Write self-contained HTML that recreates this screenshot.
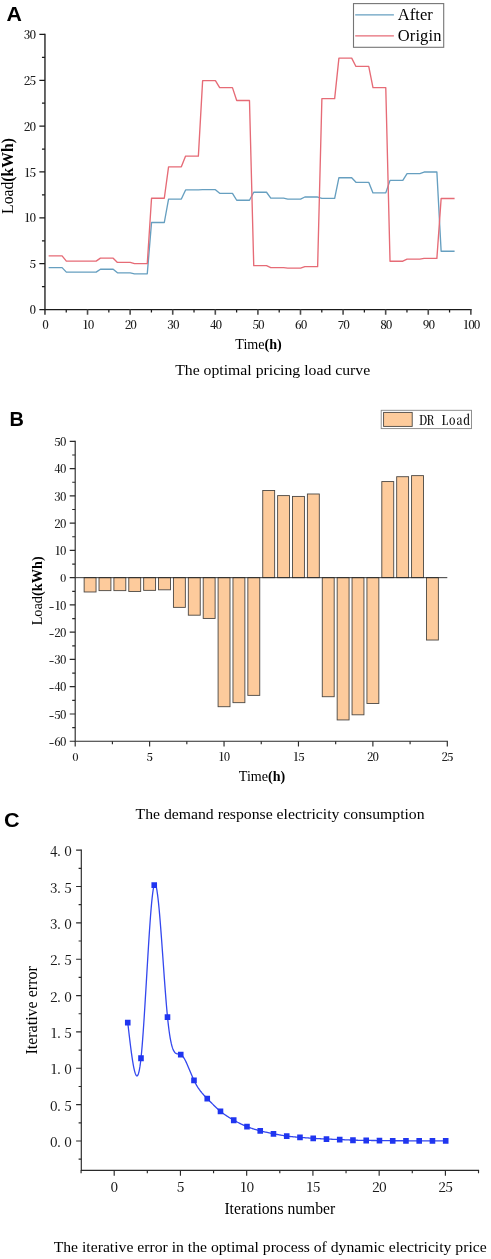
<!DOCTYPE html>
<html lang="en">
<head>
<meta charset="utf-8">
<title>Figure: optimal pricing load curve, demand response and iterative error</title>
<style>
html,body{margin:0;padding:0;background:#fff;}
body{width:491px;height:1259px;overflow:hidden;}
svg{display:block;}
text{white-space:pre;}
</style>
</head>
<body>
<svg width="491" height="1259" viewBox="0 0 491 1259">
<rect width="491" height="1259" fill="#ffffff"/>
<g id="chartA">
<path d="M49.31 267.65 L53.57 267.65 L57.83 267.65 L62.09 267.65 L66.34 272.15 L70.60 272.15 L74.86 272.15 L79.12 272.15 L83.38 272.15 L87.64 272.15 L91.90 272.15 L96.16 272.15 L100.42 269.21 L104.68 269.21 L108.94 269.21 L113.19 269.21 L117.45 272.80 L121.71 272.80 L125.97 272.80 L130.23 272.80 L134.49 273.81 L138.75 273.81 L143.01 273.81 L147.27 273.81 L151.53 222.50 L155.78 222.50 L160.04 222.50 L164.30 222.50 L168.56 199.05 L172.82 199.05 L177.08 199.05 L181.34 199.05 L185.60 189.94 L189.86 189.94 L194.12 189.94 L198.37 189.94 L202.63 189.67 L206.89 189.67 L211.15 189.67 L215.41 189.67 L219.67 193.35 L223.93 193.35 L228.19 193.35 L232.45 193.35 L236.71 200.24 L240.96 200.24 L245.22 200.24 L249.48 200.24 L253.74 192.24 L258.00 192.24 L262.26 192.24 L266.52 192.24 L270.78 198.13 L275.04 198.13 L279.30 198.13 L283.55 198.13 L287.81 199.14 L292.07 199.14 L296.33 199.14 L300.59 199.14 L304.85 197.02 L309.11 197.02 L313.37 197.02 L317.63 197.02 L321.89 198.40 L326.14 198.40 L330.40 198.40 L334.66 198.40 L338.92 177.71 L343.18 177.71 L347.44 177.71 L351.70 177.71 L355.96 182.31 L360.22 182.31 L364.48 182.31 L368.73 182.31 L372.99 192.89 L377.25 192.89 L381.51 192.89 L385.77 192.89 L390.03 180.38 L394.29 180.38 L398.55 180.38 L402.81 180.38 L407.06 173.57 L411.32 173.57 L415.58 173.57 L419.84 173.57 L424.10 172.01 L428.36 172.01 L432.62 172.01 L436.88 172.01 L441.14 251.28 L445.40 251.28 L449.66 251.28 L453.91 251.28" fill="none" stroke="#669fc0" stroke-width="1.35" stroke-linejoin="round" stroke-linecap="square"/>
<path d="M49.31 255.88 L53.57 255.88 L57.83 255.88 L62.09 255.88 L66.34 261.12 L70.60 261.12 L74.86 261.12 L79.12 261.12 L83.38 261.12 L87.64 261.12 L91.90 261.12 L96.16 261.12 L100.42 258.17 L104.68 258.17 L108.94 258.17 L113.19 258.17 L117.45 262.40 L121.71 262.40 L125.97 262.40 L130.23 262.40 L134.49 263.69 L138.75 263.69 L143.01 263.69 L147.27 263.69 L151.53 198.22 L155.78 198.22 L160.04 198.22 L164.30 198.22 L168.56 166.86 L172.82 166.86 L177.08 166.86 L181.34 166.86 L185.60 156.10 L189.86 156.10 L194.12 156.10 L198.37 156.10 L202.63 80.61 L206.89 80.61 L211.15 80.61 L215.41 80.61 L219.67 87.59 L223.93 87.59 L228.19 87.59 L232.45 87.59 L236.71 100.47 L240.96 100.47 L245.22 100.47 L249.48 100.47 L253.74 265.62 L258.00 265.62 L262.26 265.62 L266.52 265.62 L270.78 267.65 L275.04 267.65 L279.30 267.65 L283.55 267.65 L287.81 268.11 L292.07 268.11 L296.33 268.11 L300.59 268.11 L304.85 266.63 L309.11 266.63 L313.37 266.63 L317.63 266.63 L321.89 98.63 L326.14 98.63 L330.40 98.63 L334.66 98.63 L338.92 58.08 L343.18 58.08 L347.44 58.08 L351.70 58.08 L355.96 66.44 L360.22 66.44 L364.48 66.44 L368.73 66.44 L372.99 87.59 L377.25 87.59 L381.51 87.59 L385.77 87.59 L390.03 261.21 L394.29 261.21 L398.55 261.21 L402.81 261.21 L407.06 259.09 L411.32 259.09 L415.58 259.09 L419.84 259.09 L424.10 258.36 L428.36 258.36 L432.62 258.36 L436.88 258.36 L441.14 198.49 L445.40 198.49 L449.66 198.49 L453.91 198.49" fill="none" stroke="#e66b76" stroke-width="1.35" stroke-linejoin="round" stroke-linecap="square"/>
<path d="M44.95 33.80 V314.75" fill="none" stroke="#4c4c4c" stroke-width="1.7"/>
<path d="M39.35 309.55 H471.65" fill="none" stroke="#1a1a1a" stroke-width="1.25"/>
<path d="M44.95 263.69h-5.6 M44.95 217.83h-5.6 M44.95 171.97h-5.6 M44.95 126.12h-5.6 M44.95 80.26h-5.6 M44.95 34.40h-5.6 M44.95 286.62h-3 M44.95 240.76h-3 M44.95 194.90h-3 M44.95 149.05h-3 M44.95 103.19h-3 M44.95 57.33h-3 M66.25 309.55v3 M108.84 309.55v3 M151.43 309.55v3 M194.02 309.55v3 M236.61 309.55v3 M279.20 309.55v3 M321.79 309.55v3 M364.38 309.55v3 M406.96 309.55v3 M449.56 309.55v3" fill="none" stroke="#1a1a1a" stroke-width="1.25"/>
<path d="M87.54 309.55v5.2 M130.13 309.55v5.2 M172.72 309.55v5.2 M215.31 309.55v5.2 M257.90 309.55v5.2 M300.49 309.55v5.2 M343.08 309.55v5.2 M385.67 309.55v5.2 M428.26 309.55v5.2 M470.85 309.55v5.2" fill="none" stroke="#4c4c4c" stroke-width="1.6"/>
<text x="32.83" y="314.15" font-family='"Noto Serif CJK SC", "Liberation Serif", serif' font-size="11.50" font-weight="600" text-anchor="middle" fill="#222">0</text>
<text x="32.83" y="268.29" font-family='"Noto Serif CJK SC", "Liberation Serif", serif' font-size="11.50" font-weight="600" text-anchor="middle" fill="#222">5</text>
<text x="27.08 32.83" y="222.43" font-family='"Noto Serif CJK SC", "Liberation Serif", serif' font-size="11.50" font-weight="600" text-anchor="middle" fill="#222">10</text>
<text x="27.08 32.83" y="176.57" font-family='"Noto Serif CJK SC", "Liberation Serif", serif' font-size="11.50" font-weight="600" text-anchor="middle" fill="#222">15</text>
<text x="27.08 32.83" y="130.72" font-family='"Noto Serif CJK SC", "Liberation Serif", serif' font-size="11.50" font-weight="600" text-anchor="middle" fill="#222">20</text>
<text x="27.08 32.83" y="84.86" font-family='"Noto Serif CJK SC", "Liberation Serif", serif' font-size="11.50" font-weight="600" text-anchor="middle" fill="#222">25</text>
<text x="27.08 32.83" y="39.00" font-family='"Noto Serif CJK SC", "Liberation Serif", serif' font-size="11.50" font-weight="600" text-anchor="middle" fill="#222">30</text>
<text x="45.65" y="329.30" font-family='"Noto Serif CJK SC", "Liberation Serif", serif' font-size="11.50" font-weight="600" text-anchor="middle" fill="#222">0</text>
<text x="85.44 91.04" y="329.30" font-family='"Noto Serif CJK SC", "Liberation Serif", serif' font-size="11.50" font-weight="600" text-anchor="middle" fill="#222">10</text>
<text x="128.03 133.63" y="329.30" font-family='"Noto Serif CJK SC", "Liberation Serif", serif' font-size="11.50" font-weight="600" text-anchor="middle" fill="#222">20</text>
<text x="170.62 176.22" y="329.30" font-family='"Noto Serif CJK SC", "Liberation Serif", serif' font-size="11.50" font-weight="600" text-anchor="middle" fill="#222">30</text>
<text x="213.21 218.81" y="329.30" font-family='"Noto Serif CJK SC", "Liberation Serif", serif' font-size="11.50" font-weight="600" text-anchor="middle" fill="#222">40</text>
<text x="255.80 261.40" y="329.30" font-family='"Noto Serif CJK SC", "Liberation Serif", serif' font-size="11.50" font-weight="600" text-anchor="middle" fill="#222">50</text>
<text x="298.39 303.99" y="329.30" font-family='"Noto Serif CJK SC", "Liberation Serif", serif' font-size="11.50" font-weight="600" text-anchor="middle" fill="#222">60</text>
<text x="340.98 346.58" y="329.30" font-family='"Noto Serif CJK SC", "Liberation Serif", serif' font-size="11.50" font-weight="600" text-anchor="middle" fill="#222">70</text>
<text x="383.57 389.17" y="329.30" font-family='"Noto Serif CJK SC", "Liberation Serif", serif' font-size="11.50" font-weight="600" text-anchor="middle" fill="#222">80</text>
<text x="426.16 431.76" y="329.30" font-family='"Noto Serif CJK SC", "Liberation Serif", serif' font-size="11.50" font-weight="600" text-anchor="middle" fill="#222">90</text>
<text x="465.95 471.55 477.15" y="329.30" font-family='"Noto Serif CJK SC", "Liberation Serif", serif' font-size="11.50" font-weight="600" text-anchor="middle" fill="#222">100</text>
<text transform="translate(13 176) rotate(-90)" text-anchor="middle" font-family='"Liberation Serif", serif' font-size="15.7" fill="#000">Load<tspan font-weight="bold">(kWh)</tspan></text>
<text x="235.3" y="349.1" font-family='"Liberation Serif", serif' font-size="14.1" fill="#000">Time<tspan font-weight="bold">(h)</tspan></text>
<text x="175.2" y="375.2" font-family='"Liberation Serif", serif' font-size="15.5" fill="#000" textLength="195" lengthAdjust="spacingAndGlyphs">The optimal pricing load curve</text>
<rect x="353.5" y="3.6" width="90.2" height="43.7" fill="#fff" stroke="#757575" stroke-width="1.1"/>
<path d="M355.2 14.85H393.9" stroke="#669fc0" stroke-width="1.35"/>
<path d="M355.2 35.85H393.9" stroke="#e66b76" stroke-width="1.35"/>
<text x="397.8" y="20.2" font-family='"Liberation Serif", serif' font-size="16.5" fill="#000" textLength="35" lengthAdjust="spacing">After</text>
<text x="397.8" y="41.1" font-family='"Liberation Serif", serif' font-size="16.5" fill="#000" textLength="43.6" lengthAdjust="spacing">Origin</text>
<text x="6.4" y="20.5" font-family='"Liberation Sans", sans-serif' font-size="20.2" font-weight="bold" fill="#000" textLength="15.4" lengthAdjust="spacingAndGlyphs">A</text>
</g>
<g id="chartB">
<rect x="84.13" y="577.67" width="11.91" height="14.31" fill="#fdcb9c" stroke="#4b4743" stroke-width="0.9"/>
<rect x="99.01" y="577.67" width="11.91" height="12.96" fill="#fdcb9c" stroke="#4b4743" stroke-width="0.9"/>
<rect x="113.90" y="577.67" width="11.91" height="12.96" fill="#fdcb9c" stroke="#4b4743" stroke-width="0.9"/>
<rect x="128.78" y="577.67" width="11.91" height="13.77" fill="#fdcb9c" stroke="#4b4743" stroke-width="0.9"/>
<rect x="143.67" y="577.67" width="11.91" height="12.69" fill="#fdcb9c" stroke="#4b4743" stroke-width="0.9"/>
<rect x="158.55" y="577.67" width="11.91" height="12.15" fill="#fdcb9c" stroke="#4b4743" stroke-width="0.9"/>
<rect x="173.43" y="577.67" width="11.91" height="29.70" fill="#fdcb9c" stroke="#4b4743" stroke-width="0.9"/>
<rect x="188.32" y="577.67" width="11.91" height="37.52" fill="#fdcb9c" stroke="#4b4743" stroke-width="0.9"/>
<rect x="203.20" y="577.67" width="11.91" height="40.76" fill="#fdcb9c" stroke="#4b4743" stroke-width="0.9"/>
<rect x="218.09" y="577.67" width="11.91" height="129.04" fill="#fdcb9c" stroke="#4b4743" stroke-width="0.9"/>
<rect x="232.97" y="577.67" width="11.91" height="124.99" fill="#fdcb9c" stroke="#4b4743" stroke-width="0.9"/>
<rect x="247.85" y="577.67" width="11.91" height="117.70" fill="#fdcb9c" stroke="#4b4743" stroke-width="0.9"/>
<rect x="262.74" y="490.48" width="11.91" height="87.20" fill="#fdcb9c" stroke="#4b4743" stroke-width="0.9"/>
<rect x="277.62" y="495.61" width="11.91" height="82.07" fill="#fdcb9c" stroke="#4b4743" stroke-width="0.9"/>
<rect x="292.51" y="496.42" width="11.91" height="81.26" fill="#fdcb9c" stroke="#4b4743" stroke-width="0.9"/>
<rect x="307.39" y="493.99" width="11.91" height="83.69" fill="#fdcb9c" stroke="#4b4743" stroke-width="0.9"/>
<rect x="322.27" y="577.67" width="11.91" height="119.05" fill="#fdcb9c" stroke="#4b4743" stroke-width="0.9"/>
<rect x="337.16" y="577.67" width="11.91" height="142.27" fill="#fdcb9c" stroke="#4b4743" stroke-width="0.9"/>
<rect x="352.04" y="577.67" width="11.91" height="137.14" fill="#fdcb9c" stroke="#4b4743" stroke-width="0.9"/>
<rect x="366.93" y="577.67" width="11.91" height="125.80" fill="#fdcb9c" stroke="#4b4743" stroke-width="0.9"/>
<rect x="381.81" y="481.57" width="11.91" height="96.10" fill="#fdcb9c" stroke="#4b4743" stroke-width="0.9"/>
<rect x="396.69" y="476.71" width="11.91" height="100.96" fill="#fdcb9c" stroke="#4b4743" stroke-width="0.9"/>
<rect x="411.58" y="475.63" width="11.91" height="102.04" fill="#fdcb9c" stroke="#4b4743" stroke-width="0.9"/>
<rect x="426.46" y="577.67" width="11.91" height="62.36" fill="#fdcb9c" stroke="#4b4743" stroke-width="0.9"/>
<path d="M75.20 577.67H447.30" stroke="#222" stroke-width="0.9"/>
<path d="M75.20 440.80 V741.20 H447.90" fill="none" stroke="#2a2a2a" stroke-width="1.15"/>
<path d="M75.20 741.20h-5.5 M75.20 713.95h-5.5 M75.20 686.69h-5.5 M75.20 659.44h-5.5 M75.20 632.18h-5.5 M75.20 604.93h-5.5 M75.20 577.67h-5.5 M75.20 550.42h-5.5 M75.20 523.16h-5.5 M75.20 495.91h-5.5 M75.20 468.65h-5.5 M75.20 441.40h-5.5 M75.20 727.57h-3 M75.20 700.32h-3 M75.20 673.06h-3 M75.20 645.81h-3 M75.20 618.55h-3 M75.20 591.30h-3 M75.20 564.05h-3 M75.20 536.79h-3 M75.20 509.54h-3 M75.20 482.28h-3 M75.20 455.03h-3 M75.20 741.20v5.4 M149.62 741.20v5.4 M224.04 741.20v5.4 M298.46 741.20v5.4 M372.88 741.20v5.4 M447.30 741.20v5.4 M112.41 741.20v3 M186.83 741.20v3 M261.25 741.20v3 M335.67 741.20v3 M410.09 741.20v3" fill="none" stroke="#2a2a2a" stroke-width="1.15"/>
<text x="51.55 57.60 63.20" y="748.00 745.90 745.90" font-family='"Noto Serif CJK SC", "Liberation Serif", serif' font-size="11.20" font-weight="600" text-anchor="middle" fill="#222"><tspan font-size="15.68">-</tspan>60</text>
<text x="51.55 57.60 63.20" y="720.75 718.65 718.65" font-family='"Noto Serif CJK SC", "Liberation Serif", serif' font-size="11.20" font-weight="600" text-anchor="middle" fill="#222"><tspan font-size="15.68">-</tspan>50</text>
<text x="51.55 57.60 63.20" y="693.49 691.39 691.39" font-family='"Noto Serif CJK SC", "Liberation Serif", serif' font-size="11.20" font-weight="600" text-anchor="middle" fill="#222"><tspan font-size="15.68">-</tspan>40</text>
<text x="51.55 57.60 63.20" y="666.24 664.14 664.14" font-family='"Noto Serif CJK SC", "Liberation Serif", serif' font-size="11.20" font-weight="600" text-anchor="middle" fill="#222"><tspan font-size="15.68">-</tspan>30</text>
<text x="51.55 57.60 63.20" y="638.98 636.88 636.88" font-family='"Noto Serif CJK SC", "Liberation Serif", serif' font-size="11.20" font-weight="600" text-anchor="middle" fill="#222"><tspan font-size="15.68">-</tspan>20</text>
<text x="51.55 57.60 63.20" y="611.73 609.63 609.63" font-family='"Noto Serif CJK SC", "Liberation Serif", serif' font-size="11.20" font-weight="600" text-anchor="middle" fill="#222"><tspan font-size="15.68">-</tspan>10</text>
<text x="63.20" y="582.37" font-family='"Noto Serif CJK SC", "Liberation Serif", serif' font-size="11.20" font-weight="600" text-anchor="middle" fill="#222">0</text>
<text x="57.60 63.20" y="555.12" font-family='"Noto Serif CJK SC", "Liberation Serif", serif' font-size="11.20" font-weight="600" text-anchor="middle" fill="#222">10</text>
<text x="57.60 63.20" y="527.86" font-family='"Noto Serif CJK SC", "Liberation Serif", serif' font-size="11.20" font-weight="600" text-anchor="middle" fill="#222">20</text>
<text x="57.60 63.20" y="500.61" font-family='"Noto Serif CJK SC", "Liberation Serif", serif' font-size="11.20" font-weight="600" text-anchor="middle" fill="#222">30</text>
<text x="57.60 63.20" y="473.35" font-family='"Noto Serif CJK SC", "Liberation Serif", serif' font-size="11.20" font-weight="600" text-anchor="middle" fill="#222">40</text>
<text x="57.60 63.20" y="446.10" font-family='"Noto Serif CJK SC", "Liberation Serif", serif' font-size="11.20" font-weight="600" text-anchor="middle" fill="#222">50</text>
<text x="75.40" y="760.60" font-family='"Noto Serif CJK SC", "Liberation Serif", serif' font-size="11.20" font-weight="600" text-anchor="middle" fill="#222">0</text>
<text x="149.82" y="760.60" font-family='"Noto Serif CJK SC", "Liberation Serif", serif' font-size="11.20" font-weight="600" text-anchor="middle" fill="#222">5</text>
<text x="221.49 226.99" y="760.60" font-family='"Noto Serif CJK SC", "Liberation Serif", serif' font-size="11.20" font-weight="600" text-anchor="middle" fill="#222">10</text>
<text x="295.91 301.41" y="760.60" font-family='"Noto Serif CJK SC", "Liberation Serif", serif' font-size="11.20" font-weight="600" text-anchor="middle" fill="#222">15</text>
<text x="370.33 375.83" y="760.60" font-family='"Noto Serif CJK SC", "Liberation Serif", serif' font-size="11.20" font-weight="600" text-anchor="middle" fill="#222">20</text>
<text x="444.75 450.25" y="760.60" font-family='"Noto Serif CJK SC", "Liberation Serif", serif' font-size="11.20" font-weight="600" text-anchor="middle" fill="#222">25</text>
<text transform="translate(41.9 590.8) rotate(-90)" text-anchor="middle" font-family='"Liberation Serif", serif' font-size="14.3" fill="#000">Load<tspan font-weight="bold">(kWh)</tspan></text>
<text x="238.8" y="780.8" font-family='"Liberation Serif", serif' font-size="14.1" fill="#000">Time<tspan font-weight="bold">(h)</tspan></text>
<text x="135.6" y="818.9" font-family='"Liberation Serif", serif' font-size="15.5" fill="#000" textLength="289" lengthAdjust="spacingAndGlyphs">The demand response electricity consumption</text>
<rect x="381.2" y="410.3" width="90.3" height="18.3" fill="#fff" stroke="#858585" stroke-width="0.9"/>
<rect x="383.6" y="412.4" width="28.6" height="14" fill="#fdcb9c" stroke="#4b4743" stroke-width="0.9"/>
<text transform="scale(0.780 1)" x="542.53 551.83 561.12 570.42 579.71 589.01 598.30" y="425.10" font-family='"Noto Serif CJK SC", "Liberation Serif", serif' font-size="13.60" font-weight="600" text-anchor="middle" fill="#111">DR Load</text>
<text x="9.6" y="425.6" font-family='"Liberation Sans", sans-serif' font-size="20.3" font-weight="bold" fill="#000" textLength="14.4" lengthAdjust="spacingAndGlyphs">B</text>
</g>
<g id="chartC">
<path d="M127.75 1022.54 L128.28 1027.15 L128.81 1031.73 L129.34 1036.25 L129.87 1040.68 L130.40 1044.99 L130.93 1049.14 L131.46 1053.10 L131.99 1056.86 L132.53 1060.36 L133.06 1063.59 L133.59 1066.51 L134.12 1069.10 L134.65 1071.32 L135.18 1073.13 L135.71 1074.52 L136.24 1075.44 L136.77 1075.88 L137.30 1075.79 L137.83 1075.15 L138.36 1073.92 L138.89 1072.08 L139.43 1069.60 L139.96 1066.44 L140.49 1062.57 L141.02 1057.96 L141.55 1052.61 L142.08 1046.57 L142.61 1039.91 L143.14 1032.70 L143.67 1025.02 L144.20 1016.95 L144.73 1008.54 L145.26 999.89 L145.80 991.06 L146.33 982.12 L146.86 973.14 L147.39 964.21 L147.92 955.39 L148.45 946.75 L148.98 938.38 L149.51 930.33 L150.04 922.69 L150.57 915.53 L151.10 908.92 L151.63 902.93 L152.17 897.64 L152.70 893.12 L153.23 889.45 L153.76 886.69 L154.29 884.92 L154.82 884.18 L155.35 884.43 L155.88 885.61 L156.41 887.64 L156.94 890.48 L157.47 894.05 L158.00 898.29 L158.53 903.14 L159.07 908.54 L159.60 914.42 L160.13 920.72 L160.66 927.38 L161.19 934.33 L161.72 941.51 L162.25 948.85 L162.78 956.30 L163.31 963.79 L163.84 971.26 L164.37 978.64 L164.90 985.88 L165.44 992.90 L165.97 999.65 L166.50 1006.06 L167.03 1012.06 L167.56 1017.60 L168.09 1022.64 L168.62 1027.19 L169.15 1031.26 L169.68 1034.90 L170.21 1038.13 L170.74 1040.96 L171.27 1043.43 L171.80 1045.56 L172.34 1047.38 L172.87 1048.91 L173.40 1050.17 L173.93 1051.20 L174.46 1052.02 L174.99 1052.65 L175.52 1053.11 L176.05 1053.45 L176.58 1053.67 L177.11 1053.81 L177.64 1053.88 L178.17 1053.93 L178.71 1053.96 L179.24 1054.01 L179.77 1054.10 L180.30 1054.26 L180.83 1054.51 L181.36 1054.87 L181.89 1055.34 L182.42 1055.91 L182.95 1056.57 L183.48 1057.32 L184.01 1058.14 L184.54 1059.04 L185.07 1060.01 L185.61 1061.04 L186.14 1062.13 L186.67 1063.26 L187.20 1064.44 L187.73 1065.65 L188.26 1066.89 L188.79 1068.15 L189.32 1069.42 L189.85 1070.71 L190.38 1072.00 L190.91 1073.29 L191.44 1074.57 L191.98 1075.83 L192.51 1077.07 L193.04 1078.28 L193.57 1079.45 L194.10 1080.58 L194.63 1081.67 L195.16 1082.71 L195.69 1083.71 L196.22 1084.67 L196.75 1085.59 L197.28 1086.47 L197.81 1087.32 L198.35 1088.13 L198.88 1088.91 L199.41 1089.67 L199.94 1090.39 L200.47 1091.09 L201.00 1091.77 L201.53 1092.43 L202.06 1093.06 L202.59 1093.68 L203.12 1094.28 L203.65 1094.87 L204.18 1095.44 L204.71 1096.00 L205.25 1096.56 L205.78 1097.11 L206.31 1097.66 L206.84 1098.20 L207.37 1098.74 L207.90 1099.28 L208.43 1099.82 L208.96 1100.37 L209.49 1100.91 L210.02 1101.45 L210.55 1101.99 L211.08 1102.53 L211.62 1103.06 L212.15 1103.59 L212.68 1104.12 L213.21 1104.65 L213.74 1105.17 L214.27 1105.69 L214.80 1106.21 L215.33 1106.72 L215.86 1107.22 L216.39 1107.72 L216.92 1108.21 L217.45 1108.70 L217.98 1109.18 L218.52 1109.65 L219.05 1110.11 L219.58 1110.57 L220.11 1111.02 L220.64 1111.46 L221.17 1111.89 L221.70 1112.31 L222.23 1112.72 L222.76 1113.13 L223.29 1113.52 L223.82 1113.91 L224.35 1114.30 L224.89 1114.67 L225.42 1115.04 L225.95 1115.40 L226.48 1115.76 L227.01 1116.11 L227.54 1116.45 L228.07 1116.79 L228.60 1117.12 L229.13 1117.45 L229.66 1117.77 L230.19 1118.09 L230.72 1118.41 L231.25 1118.72 L231.79 1119.03 L232.32 1119.33 L232.85 1119.63 L233.38 1119.93 L233.91 1120.23 L234.44 1120.52 L234.97 1120.81 L235.50 1121.10 L236.03 1121.39 L236.56 1121.67 L237.09 1121.96 L237.62 1122.24 L238.16 1122.51 L238.69 1122.78 L239.22 1123.05 L239.75 1123.32 L240.28 1123.58 L240.81 1123.85 L241.34 1124.10 L241.87 1124.36 L242.40 1124.61 L242.93 1124.85 L243.46 1125.09 L243.99 1125.33 L244.53 1125.57 L245.06 1125.80 L245.59 1126.03 L246.12 1126.25 L246.65 1126.47 L247.18 1126.68 L247.71 1126.89 L248.24 1127.10 L248.77 1127.30 L249.30 1127.50 L249.83 1127.69 L250.36 1127.88 L250.89 1128.06 L251.43 1128.25 L251.96 1128.42 L252.49 1128.60 L253.02 1128.77 L253.55 1128.94 L254.08 1129.11 L254.61 1129.27 L255.14 1129.43 L255.67 1129.58 L256.20 1129.74 L256.73 1129.89 L257.26 1130.04 L257.80 1130.18 L258.33 1130.32 L258.86 1130.47 L259.39 1130.60 L259.92 1130.74 L260.45 1130.88 L260.98 1131.01 L261.51 1131.14 L262.04 1131.27 L262.57 1131.39 L263.10 1131.52 L263.63 1131.64 L264.16 1131.77 L264.70 1131.89 L265.23 1132.01 L265.76 1132.12 L266.29 1132.24 L266.82 1132.36 L267.35 1132.47 L267.88 1132.58 L268.41 1132.70 L268.94 1132.81 L269.47 1132.92 L270.00 1133.03 L270.53 1133.14 L271.07 1133.24 L271.60 1133.35 L272.13 1133.46 L272.66 1133.56 L273.19 1133.67 L273.72 1133.78 L274.25 1133.88 L274.78 1133.99 L275.31 1134.09 L275.84 1134.19 L276.37 1134.30 L276.90 1134.40 L277.43 1134.50 L277.97 1134.60 L278.50 1134.70 L279.03 1134.80 L279.56 1134.90 L280.09 1134.99 L280.62 1135.09 L281.15 1135.18 L281.68 1135.27 L282.21 1135.36 L282.74 1135.45 L283.27 1135.54 L283.80 1135.62 L284.34 1135.71 L284.87 1135.79 L285.40 1135.87 L285.93 1135.94 L286.46 1136.02 L286.99 1136.09 L287.52 1136.16 L288.05 1136.23 L288.58 1136.30 L289.11 1136.36 L289.64 1136.42 L290.17 1136.48 L290.71 1136.54 L291.24 1136.60 L291.77 1136.65 L292.30 1136.71 L292.83 1136.76 L293.36 1136.81 L293.89 1136.86 L294.42 1136.91 L294.95 1136.95 L295.48 1137.00 L296.01 1137.05 L296.54 1137.09 L297.07 1137.13 L297.61 1137.18 L298.14 1137.22 L298.67 1137.26 L299.20 1137.30 L299.73 1137.35 L300.26 1137.39 L300.79 1137.43 L301.32 1137.47 L301.85 1137.51 L302.38 1137.55 L302.91 1137.59 L303.44 1137.63 L303.98 1137.67 L304.51 1137.71 L305.04 1137.75 L305.57 1137.78 L306.10 1137.82 L306.63 1137.86 L307.16 1137.90 L307.69 1137.94 L308.22 1137.97 L308.75 1138.01 L309.28 1138.05 L309.81 1138.08 L310.34 1138.12 L310.88 1138.15 L311.41 1138.19 L311.94 1138.23 L312.47 1138.26 L313.00 1138.30 L313.53 1138.33 L314.06 1138.36 L314.59 1138.40 L315.12 1138.43 L315.65 1138.46 L316.18 1138.50 L316.71 1138.53 L317.25 1138.56 L317.78 1138.59 L318.31 1138.62 L318.84 1138.65 L319.37 1138.68 L319.90 1138.71 L320.43 1138.74 L320.96 1138.77 L321.49 1138.80 L322.02 1138.82 L322.55 1138.85 L323.08 1138.88 L323.61 1138.90 L324.15 1138.93 L324.68 1138.96 L325.21 1138.98 L325.74 1139.00 L326.27 1139.03 L326.80 1139.05 L327.33 1139.07 L327.86 1139.10 L328.39 1139.12 L328.92 1139.14 L329.45 1139.16 L329.98 1139.18 L330.52 1139.20 L331.05 1139.22 L331.58 1139.24 L332.11 1139.26 L332.64 1139.28 L333.17 1139.30 L333.70 1139.32 L334.23 1139.33 L334.76 1139.35 L335.29 1139.37 L335.82 1139.39 L336.35 1139.41 L336.89 1139.43 L337.42 1139.45 L337.95 1139.47 L338.48 1139.49 L339.01 1139.52 L339.54 1139.54 L340.07 1139.56 L340.60 1139.58 L341.13 1139.61 L341.66 1139.63 L342.19 1139.65 L342.72 1139.68 L343.25 1139.70 L343.79 1139.73 L344.32 1139.75 L344.85 1139.78 L345.38 1139.80 L345.91 1139.83 L346.44 1139.85 L346.97 1139.88 L347.50 1139.90 L348.03 1139.92 L348.56 1139.95 L349.09 1139.97 L349.62 1139.99 L350.16 1140.02 L350.69 1140.04 L351.22 1140.06 L351.75 1140.08 L352.28 1140.10 L352.81 1140.12 L353.34 1140.14 L353.87 1140.16 L354.40 1140.18 L354.93 1140.19 L355.46 1140.21 L355.99 1140.22 L356.52 1140.24 L357.06 1140.25 L357.59 1140.26 L358.12 1140.28 L358.65 1140.29 L359.18 1140.30 L359.71 1140.31 L360.24 1140.32 L360.77 1140.33 L361.30 1140.34 L361.83 1140.35 L362.36 1140.36 L362.89 1140.37 L363.43 1140.38 L363.96 1140.39 L364.49 1140.39 L365.02 1140.40 L365.55 1140.41 L366.08 1140.42 L366.61 1140.42 L367.14 1140.43 L367.67 1140.44 L368.20 1140.44 L368.73 1140.45 L369.26 1140.46 L369.79 1140.46 L370.33 1140.47 L370.86 1140.47 L371.39 1140.48 L371.92 1140.48 L372.45 1140.49 L372.98 1140.50 L373.51 1140.50 L374.04 1140.51 L374.57 1140.51 L375.10 1140.52 L375.63 1140.52 L376.16 1140.53 L376.70 1140.53 L377.23 1140.54 L377.76 1140.55 L378.29 1140.55 L378.82 1140.56 L379.35 1140.56 L379.88 1140.57 L380.41 1140.57 L380.94 1140.58 L381.47 1140.59 L382.00 1140.59 L382.53 1140.60 L383.07 1140.60 L383.60 1140.61 L384.13 1140.62 L384.66 1140.62 L385.19 1140.63 L385.72 1140.64 L386.25 1140.64 L386.78 1140.65 L387.31 1140.65 L387.84 1140.66 L388.37 1140.67 L388.90 1140.67 L389.43 1140.68 L389.97 1140.68 L390.50 1140.69 L391.03 1140.69 L391.56 1140.70 L392.09 1140.70 L392.62 1140.71 L393.15 1140.71 L393.68 1140.72 L394.21 1140.72 L394.74 1140.73 L395.27 1140.73 L395.80 1140.73 L396.34 1140.74 L396.87 1140.74 L397.40 1140.75 L397.93 1140.75 L398.46 1140.75 L398.99 1140.76 L399.52 1140.76 L400.05 1140.76 L400.58 1140.76 L401.11 1140.77 L401.64 1140.77 L402.17 1140.77 L402.70 1140.77 L403.24 1140.77 L403.77 1140.78 L404.30 1140.78 L404.83 1140.78 L405.36 1140.78 L405.89 1140.78 L406.42 1140.78 L406.95 1140.78 L407.48 1140.78 L408.01 1140.78 L408.54 1140.79 L409.07 1140.79 L409.61 1140.79 L410.14 1140.79 L410.67 1140.79 L411.20 1140.79 L411.73 1140.79 L412.26 1140.79 L412.79 1140.79 L413.32 1140.79 L413.85 1140.79 L414.38 1140.79 L414.91 1140.78 L415.44 1140.78 L415.97 1140.78 L416.51 1140.78 L417.04 1140.78 L417.57 1140.78 L418.10 1140.78 L418.63 1140.78 L419.16 1140.78 L419.69 1140.78 L420.22 1140.78 L420.75 1140.78 L421.28 1140.78 L421.81 1140.78 L422.34 1140.78 L422.88 1140.78 L423.41 1140.78 L423.94 1140.78 L424.47 1140.78 L425.00 1140.78 L425.53 1140.78 L426.06 1140.78 L426.59 1140.78 L427.12 1140.78 L427.65 1140.78 L428.18 1140.78 L428.71 1140.78 L429.25 1140.78 L429.78 1140.78 L430.31 1140.78 L430.84 1140.78 L431.37 1140.78 L431.90 1140.78 L432.43 1140.78 L432.96 1140.78 L433.49 1140.78 L434.02 1140.78 L434.55 1140.78 L435.08 1140.78 L435.61 1140.78 L436.15 1140.78 L436.68 1140.78 L437.21 1140.78 L437.74 1140.78 L438.27 1140.78 L438.80 1140.78 L439.33 1140.78 L439.86 1140.78 L440.39 1140.78 L440.92 1140.78 L441.45 1140.78 L441.98 1140.78 L442.52 1140.78 L443.05 1140.78 L443.58 1140.78 L444.11 1140.78 L444.64 1140.78 L445.17 1140.78 L445.70 1140.78" fill="none" stroke="#3347ee" stroke-width="1.3" stroke-linejoin="round"/>
<path d="M124.95 1019.74h5.6v5.8h-5.6z M138.20 1055.37h5.6v5.8h-5.6z M151.44 882.23h5.6v5.8h-5.6z M164.69 1014.14h5.6v5.8h-5.6z M177.94 1051.66h5.6v5.8h-5.6z M191.19 1077.55h5.6v5.8h-5.6z M204.44 1095.80h5.6v5.8h-5.6z M217.68 1108.53h5.6v5.8h-5.6z M230.93 1117.33h5.6v5.8h-5.6z M244.18 1123.80h5.6v5.8h-5.6z M257.43 1128.02h5.6v5.8h-5.6z M270.68 1130.93h5.6v5.8h-5.6z M283.92 1133.26h5.6v5.8h-5.6z M297.17 1134.56h5.6v5.8h-5.6z M310.42 1135.51h5.6v5.8h-5.6z M323.67 1136.24h5.6v5.8h-5.6z M336.92 1136.75h5.6v5.8h-5.6z M350.16 1137.33h5.6v5.8h-5.6z M363.41 1137.62h5.6v5.8h-5.6z M376.66 1137.76h5.6v5.8h-5.6z M389.91 1137.91h5.6v5.8h-5.6z M403.16 1137.98h5.6v5.8h-5.6z M416.40 1137.98h5.6v5.8h-5.6z M429.65 1137.98h5.6v5.8h-5.6z M442.90 1137.98h5.6v5.8h-5.6z" fill="#1f35f0"/>
<path d="M81.30 849.40 V1170.30 H479.10" fill="none" stroke="#2a2a2a" stroke-width="1.15"/>
<path d="M81.30 1141.00h-5.2 M81.30 1104.64h-5.2 M81.30 1068.28h-5.2 M81.30 1031.92h-5.2 M81.30 995.56h-5.2 M81.30 959.20h-5.2 M81.30 922.84h-5.2 M81.30 886.48h-5.2 M81.30 850.12h-5.2 M81.30 1159.18h-2.7 M81.30 1122.82h-2.7 M81.30 1086.46h-2.7 M81.30 1050.10h-2.7 M81.30 1013.74h-2.7 M81.30 977.38h-2.7 M81.30 941.02h-2.7 M81.30 904.66h-2.7 M81.30 868.30h-2.7 M114.20 1170.30v5.4 M180.44 1170.30v5.4 M246.68 1170.30v5.4 M312.92 1170.30v5.4 M379.16 1170.30v5.4 M445.40 1170.30v5.4 M81.08 1170.30v3 M147.32 1170.30v3 M213.56 1170.30v3 M279.80 1170.30v3 M346.04 1170.30v3 M412.28 1170.30v3 M478.52 1170.30v3" fill="none" stroke="#2a2a2a" stroke-width="1.15"/>
<text x="53.83 58.83 68.12" y="1147.20" font-family='"Noto Serif CJK SC", "Liberation Serif", serif' font-size="13.40" font-weight="500" text-anchor="middle" fill="#1a1a1a">0.0</text>
<text x="53.83 58.83 68.12" y="1110.84" font-family='"Noto Serif CJK SC", "Liberation Serif", serif' font-size="13.40" font-weight="500" text-anchor="middle" fill="#1a1a1a">0.5</text>
<text x="53.83 58.83 68.12" y="1074.48" font-family='"Noto Serif CJK SC", "Liberation Serif", serif' font-size="13.40" font-weight="500" text-anchor="middle" fill="#1a1a1a">1.0</text>
<text x="53.83 58.83 68.12" y="1038.12" font-family='"Noto Serif CJK SC", "Liberation Serif", serif' font-size="13.40" font-weight="500" text-anchor="middle" fill="#1a1a1a">1.5</text>
<text x="53.83 58.83 68.12" y="1001.76" font-family='"Noto Serif CJK SC", "Liberation Serif", serif' font-size="13.40" font-weight="500" text-anchor="middle" fill="#1a1a1a">2.0</text>
<text x="53.83 58.83 68.12" y="965.40" font-family='"Noto Serif CJK SC", "Liberation Serif", serif' font-size="13.40" font-weight="500" text-anchor="middle" fill="#1a1a1a">2.5</text>
<text x="53.83 58.83 68.12" y="929.04" font-family='"Noto Serif CJK SC", "Liberation Serif", serif' font-size="13.40" font-weight="500" text-anchor="middle" fill="#1a1a1a">3.0</text>
<text x="53.83 58.83 68.12" y="892.68" font-family='"Noto Serif CJK SC", "Liberation Serif", serif' font-size="13.40" font-weight="500" text-anchor="middle" fill="#1a1a1a">3.5</text>
<text x="53.83 58.83 68.12" y="856.32" font-family='"Noto Serif CJK SC", "Liberation Serif", serif' font-size="13.40" font-weight="500" text-anchor="middle" fill="#1a1a1a">4.0</text>
<text x="114.40" y="1192.30" font-family='"Noto Serif CJK SC", "Liberation Serif", serif' font-size="13.60" font-weight="500" text-anchor="middle" fill="#1a1a1a">0</text>
<text x="180.64" y="1192.30" font-family='"Noto Serif CJK SC", "Liberation Serif", serif' font-size="13.60" font-weight="500" text-anchor="middle" fill="#1a1a1a">5</text>
<text x="243.43 250.33" y="1192.30" font-family='"Noto Serif CJK SC", "Liberation Serif", serif' font-size="13.60" font-weight="500" text-anchor="middle" fill="#1a1a1a">10</text>
<text x="309.67 316.57" y="1192.30" font-family='"Noto Serif CJK SC", "Liberation Serif", serif' font-size="13.60" font-weight="500" text-anchor="middle" fill="#1a1a1a">15</text>
<text x="375.91 382.81" y="1192.30" font-family='"Noto Serif CJK SC", "Liberation Serif", serif' font-size="13.60" font-weight="500" text-anchor="middle" fill="#1a1a1a">20</text>
<text x="442.15 449.05" y="1192.30" font-family='"Noto Serif CJK SC", "Liberation Serif", serif' font-size="13.60" font-weight="500" text-anchor="middle" fill="#1a1a1a">25</text>
<text transform="translate(36.6 1010.4) rotate(-90)" text-anchor="middle" font-family='"Liberation Serif", serif' font-size="16" fill="#000">Iterative error</text>
<text x="224.4" y="1214.2" font-family='"Liberation Serif", serif' font-size="16" fill="#000" textLength="110.8" lengthAdjust="spacingAndGlyphs">Iterations number</text>
<text x="53.7" y="1252.4" font-family='"Liberation Serif", serif' font-size="15.5" fill="#000" textLength="433" lengthAdjust="spacingAndGlyphs">The iterative error in the optimal process of dynamic electricity price</text>
<text x="3.9" y="826.6" font-family='"Liberation Sans", sans-serif' font-size="20.4" font-weight="bold" fill="#000" textLength="15.6" lengthAdjust="spacingAndGlyphs">C</text>
</g>
</svg>
</body>
</html>
